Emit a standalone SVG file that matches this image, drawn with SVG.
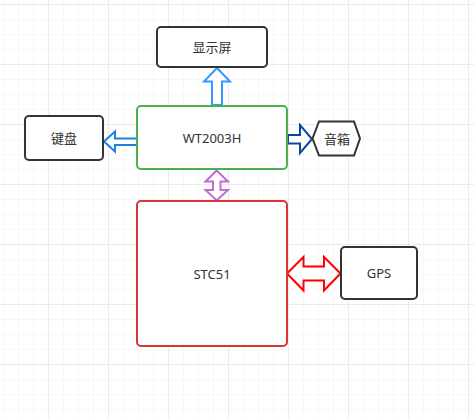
<svg xmlns="http://www.w3.org/2000/svg" width="474" height="418" viewBox="0 0 474 418">
<defs>
<pattern id="minor" x="3" y="4" width="15" height="15" patternUnits="userSpaceOnUse">
<path d="M0 0H15M0 0V15" fill="none" stroke="#efefef" stroke-width="1"/>
</pattern>
<pattern id="major" x="48" y="4" width="60" height="60" patternUnits="userSpaceOnUse">
<path d="M0 0H60M0 0V60" fill="none" stroke="#e0e0e0" stroke-width="1"/>
</pattern>
<style>
.box{fill:#fff;stroke:#333;stroke-width:2}
.lbl{font-family:"Noto Sans","Noto Sans CJK SC",sans-serif;font-size:13px;fill:#333;text-anchor:middle;dominant-baseline:central}
.arr{fill:#fff;stroke-width:2;stroke-linejoin:miter}
</style>
</defs>
<rect width="474" height="418" fill="#fff"/>
<rect width="474" height="418" fill="url(#minor)"/>
<rect width="474" height="418" fill="url(#major)"/>

<g id="connectors">
<path class="arr" stroke="#3399ff" d="M212 105V81.5H204L217 68L230 81.5H222V105Z"/>
<path class="arr" stroke="#1e80e0" d="M137 138.5H115V131.5L104 141.5L115 151.5V145H137Z"/>
<path class="arr" stroke="#0d47a1" d="M288 135H300V125L312 139L300 153V143.5H288Z"/>
<path class="arr" stroke="#c36bd4" d="M216.7 170.5L228 181.5H220.5V190H228L216.7 200.5L205.5 190H213V181.5H205.5Z"/>
<path class="arr" stroke="#ff0000" d="M287 273.5L303.5 257V266.5H324V257L340.5 273.5L324 290.5V280.5H303.5V290.5Z"/>
</g>

<g id="n-display">
<rect class="box" x="157" y="27" width="110" height="40" rx="4"/>
<text class="lbl" x="212" y="47">显示屏</text>
</g>
<g id="n-wt2003h">
<rect x="137" y="106" width="150" height="63" rx="4" fill="#fff" stroke="#4caf50" stroke-width="2"/>
<text class="lbl" x="212" y="137.5">WT2003H</text>
</g>
<g id="n-keyboard">
<rect class="box" x="25" y="116" width="78" height="44" rx="4"/>
<text class="lbl" x="64" y="138">键盘</text>
</g>
<g id="n-speaker">
<path class="box" d="M312.5 138.5L319 121.5H354L360 138.5L354 155.5H319Z"/>
<text class="lbl" x="337" y="138.5">音箱</text>
</g>
<g id="n-stc51">
<rect x="137" y="201" width="150" height="145" rx="4" fill="#fff" stroke="#dd3333" stroke-width="2"/>
<text class="lbl" x="212" y="273.5">STC51</text>
</g>
<g id="n-gps">
<rect class="box" x="341" y="247" width="76" height="52" rx="4"/>
<text class="lbl" x="379" y="273">GPS</text>
</g>
</svg>
